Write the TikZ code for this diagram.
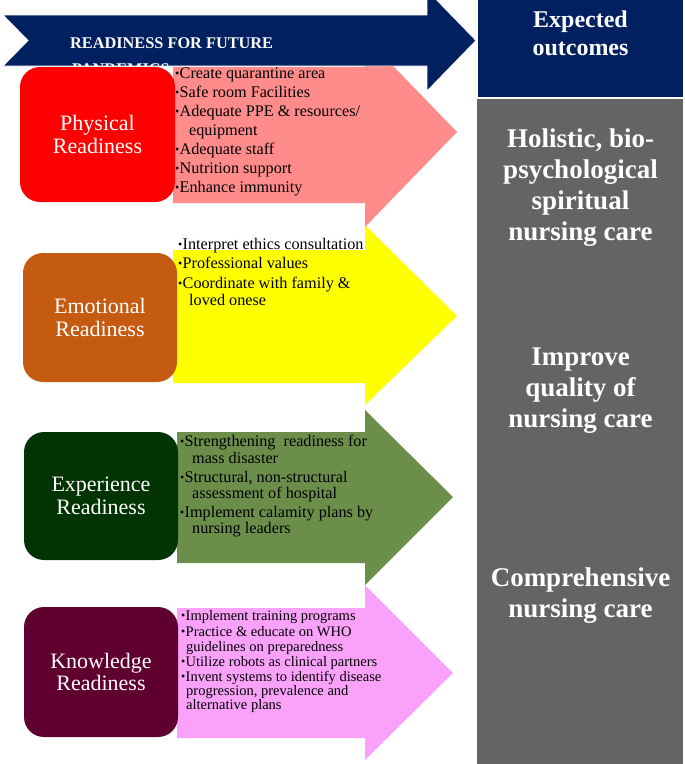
\documentclass[tikz,border=0pt]{standalone}
\usepackage{fontspec}
\setmainfont{Liberation Serif}
\definecolor{cnavy}{HTML}{002060}
\definecolor{cgray}{HTML}{646464}
\definecolor{cred}{HTML}{FF0000}
\definecolor{cpink}{HTML}{FF8B8B}
\definecolor{cyellow}{HTML}{FFFF00}
\definecolor{cgreen}{HTML}{6B8E4A}
\definecolor{cdkgreen}{HTML}{023302}
\definecolor{cbrown}{HTML}{C55A11}
\definecolor{cmaroon}{HTML}{600030}
\definecolor{cpinkb}{HTML}{FAA2FA}
\newcommand{\bul}{\makebox[4.5pt][l]{\raisebox{0.8pt}{\fontsize{12}{12}\selectfont •}}}
\begin{document}
\begin{tikzpicture}[x=1pt,y=-1pt,
  lbox/.style={rounded corners=20pt, inner sep=0pt, text=white, align=center,
     font=\fontsize{22}{22.4}\selectfont},
  btxt/.style={inner sep=0pt, anchor=base west, text=black, font=\fontsize{16.2}{18}\selectfont},
  ktxt/.style={inner sep=0pt, anchor=base west, text=black, font=\fontsize{14.5}{15}\selectfont},
  otxt/.style={inner sep=0pt, anchor=north, text=white, align=center,
     font=\fontsize{27}{31}\selectfont\bfseries},
  ttxt/.style={inner sep=0pt, anchor=base west, text=white, font=\fontsize{16.3}{19}\selectfont\bfseries}
]
\useasboundingbox (0,0) rectangle (685,764);
\clip (0,0) rectangle (685,764);
% right column
\fill[cnavy] (478,0) rectangle (683,97);
\fill[cgray] (477,99) rectangle (683,764);
% chevron arrows
\fill[cpinkb] (177,608) -- (365,608) -- (365,585) -- (453,673) -- (365,760) -- (365,738) -- (177,738) -- cycle;
\fill[cgreen] (177,432) -- (365,432) -- (365,410) -- (453,497) -- (365,585) -- (365,563) -- (177,563) -- cycle;
\fill[cyellow] (173,250) -- (365,250) -- (365,225) -- (457,316) -- (365,405) -- (365,383) -- (173,383) -- cycle;
\fill[cpink] (173,67) -- (365,67) -- (365,37) -- (457,132) -- (365,227) -- (365,203) -- (173,203) -- cycle;
% top banner arrow
\fill[cnavy, draw=white, line width=0.8pt] (3,15) -- (427,15) -- (427,-10) -- (476,40.5) -- (427,91) -- (427,66) -- (3,66) -- (28,40.5) -- cycle;
\node[ttxt] (t1) at (70,48) {READINESS FOR FUTURE};
\node[ttxt] (t2) at (72,74) {PANDEMICS};
% left boxes
\node[lbox, fill=cred, minimum width=155pt, minimum height=135pt] (phys) at (97.5,134.5) {Physical\\Readiness};
\node[lbox, fill=cbrown, minimum width=154pt, minimum height=129pt] (emo) at (100,317.5) {Emotional\\Readiness};
\node[lbox, fill=cdkgreen, minimum width=154pt, minimum height=128pt] (exp) at (101,496) {Experience\\Readiness};
\node[lbox, fill=cmaroon, minimum width=154pt, minimum height=130pt] (know) at (101,672) {Knowledge\\Readiness};
% physical bullets
\node[btxt] (p1) at (175,78) {\bul Create quarantine area};
\node[btxt] (p2) at (175,97) {\bul Safe room Facilities};
\node[btxt] (p3) at (175,116) {\bul Adequate PPE \& resources/};
\node[btxt] (p4) at (189,135) {equipment};
\node[btxt] (p5) at (175,154) {\bul Adequate staff};
\node[btxt] (p6) at (175,173) {\bul Nutrition support};
\node[btxt] (p7) at (175,192) {\bul Enhance immunity};
% emotional bullets
\node[btxt] (e1) at (178,249) {\bul Interpret ethics consultation};
\node[btxt] (e2) at (178,268) {\bul Professional values};
\node[btxt] (e3) at (178,288) {\bul Coordinate with family \&};
\node[btxt] (e4) at (189,305) {loved onese};
% experience bullets
\node[btxt] (x1) at (180,446) {\bul Strengthening\ \ readiness for};
\node[btxt] (x2) at (192,463) {mass disaster};
\node[btxt] (x3) at (180,482) {\bul Structural, non-structural};
\node[btxt] (x4) at (192,498) {assessment of hospital};
\node[btxt] (x5) at (180,517) {\bul Implement calamity plans by};
\node[btxt] (x6) at (192,533) {nursing leaders};
% knowledge bullets
\node[ktxt] (k1) at (181,620) {\bul Implement training programs};
\node[ktxt] (k2) at (181,636) {\bul Practice \& educate on WHO};
\node[ktxt] (k3) at (186,651) {guidelines on preparedness};
\node[ktxt] (k4) at (181,666) {\bul Utilize robots as clinical partners};
\node[ktxt] (k5) at (181,681) {\bul Invent systems to identify disease};
\node[ktxt] (k6) at (186,695) {progression, prevalence and};
\node[ktxt] (k7) at (186,709) {alternative plans};
% outcomes
\node[otxt, font=\fontsize{24}{28}\selectfont\bfseries] (o0) at (580.5,10.6) {Expected\\outcomes};
\node[otxt] (o1) at (580.5,128.6) {Holistic, bio-\\psychological\\spiritual\\nursing care};
\node[otxt] (o2) at (580.5,348) {Improve\\quality of\\nursing care};
\node[otxt] (o3) at (580.5,567.6) {Comprehensive\\nursing care};
\end{tikzpicture}
\end{document}
